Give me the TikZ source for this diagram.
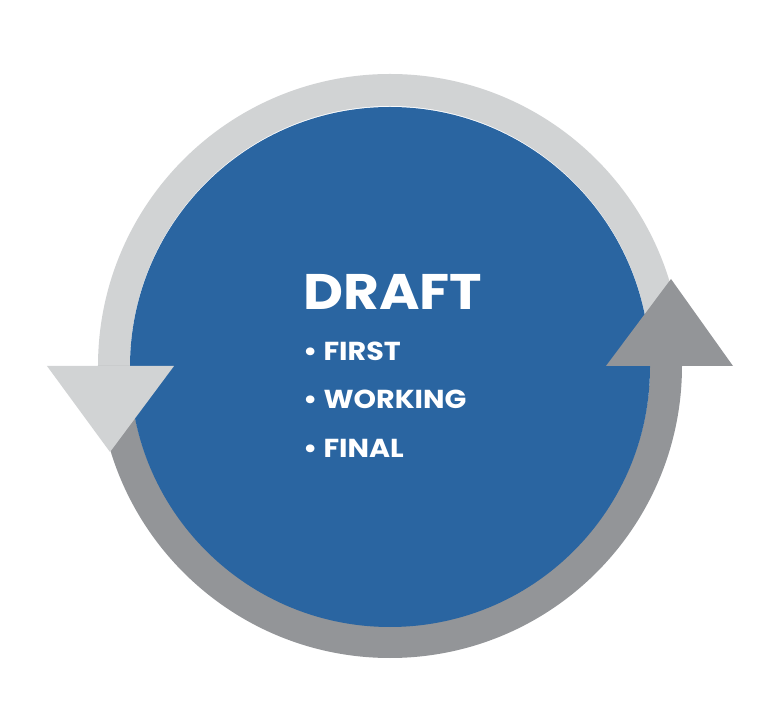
\documentclass[tikz,border=0pt]{standalone}
\usepackage{fontspec}
\setmainfont{Poppins}[FakeStretch=1.1]
\definecolor{draftblue}{HTML}{2A65A1}
\definecolor{lightring}{HTML}{D1D3D4}
\definecolor{darkring}{HTML}{939598}

\begin{document}
\begin{tikzpicture}[
                x=1pt, y=1pt,                 % one unit = one pixel
                title/.style={
                    text=white,
                    font=\bfseries\fontsize{50}{50}\selectfont,
                    anchor=base west,
                    inner sep=0pt
                },
                item/.style={
                    text=white,
                    font=\bfseries\fontsize{26}{26}\selectfont,
                    anchor=base west,
                    inner sep=0pt
                }
            ]
                \useasboundingbox (-390,-361) rectangle (378,366);

                % ring: light upper half, dark lower half
                \fill[lightring] (0:292) arc (0:180:292) -- (180:260) arc (180:0:260) -- cycle;
                \fill[darkring] (180:292) arc (180:360:292) -- (360:260) arc (360:180:260) -- cycle;

                % blue disc
                \fill[draftblue] (0,-1) circle (260);

                % arrow heads
                \fill[lightring] (-343,0) -- (-216,0) -- (-280,-86) -- cycle;  % pointing down
                \fill[darkring] (216,0) -- (343,0) -- (281,87) -- cycle;       % pointing up

                % texts
                \node[title] (draft) at (-87,56) {DRAFT};
                \node[item] (first) at (-87,5) {• FIRST};
                \node[item] (working) at (-87,-43) {• WORKING};
                \node[item] (final) at (-87,-92) {• FINAL};
            \end{tikzpicture}
\end{document}
